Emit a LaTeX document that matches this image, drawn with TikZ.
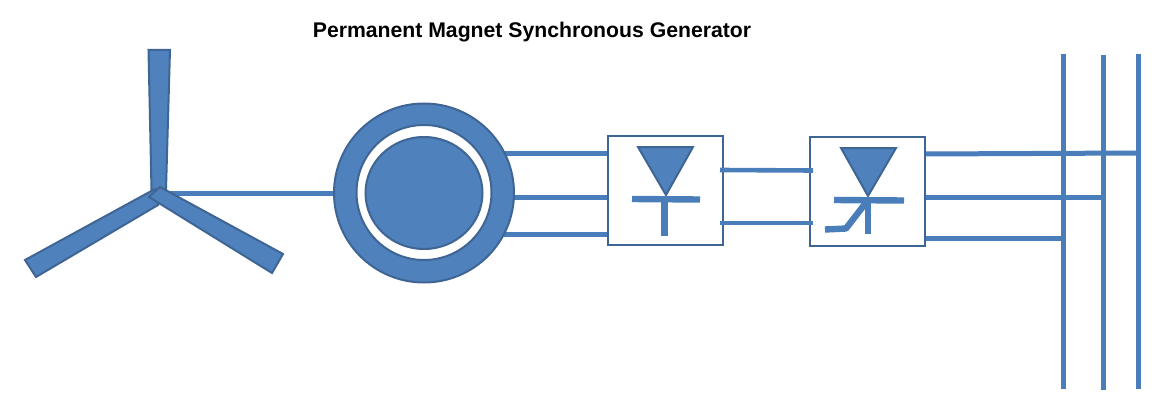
\documentclass[tikz,border=0pt]{standalone}
\usepackage{fontspec}
\setmainfont{Liberation Sans}
\usetikzlibrary{shapes.geometric}
\definecolor{bfill}{HTML}{4F81BD}
\definecolor{bedge}{HTML}{3F6595}
\definecolor{bline}{HTML}{4A7EBB}
\tikzset{
  shape solid/.style={fill=bfill,draw=bedge,line width=2pt,line join=miter},
  wire/.style={draw=bline,line width=5pt},
  thinwire/.style={draw=bline,line width=4.6pt},
  busbar/.style={draw=bline,line width=5pt},
  symbolbar/.style={draw=bline,line width=6.4pt},
  convbox/.style={draw=bedge,fill=white,line width=2.4pt,rectangle,inner sep=0pt,outer sep=0pt},
  ring/.style={ellipse,inner sep=0pt,outer sep=0pt},
}
\begin{document}
\begin{tikzpicture}[x=1pt,y=-1pt]
\useasboundingbox (0,0) rectangle (1171,412);
\node[font=\fontsize{21.2}{25}\selectfont\bfseries,text=black,inner sep=0pt] (title) at (532,32.5) {Permanent Magnet Synchronous Generator};

% anchor points
\coordinate (hub) at (158,193);
\coordinate (shaftend) at (340,193);
\coordinate (g1) at (504,153);
\coordinate (g2) at (512,197);
\coordinate (g3) at (504,234);
\coordinate (a1) at (609,153);
\coordinate (a2) at (609,197);
\coordinate (a3) at (609,234);
\coordinate (r1) at (720,170);
\coordinate (r2) at (720,223);
\coordinate (i1) at (813,170.5);
\coordinate (i2) at (813,223);
\coordinate (o1) at (925,154);
\coordinate (o2) at (925,197);
\coordinate (o3) at (925,238);
\coordinate (t1) at (1138,153);
\coordinate (t2) at (1103,197);
\coordinate (t3) at (1063,238);
\coordinate (b1a) at (1063,54);
\coordinate (b1b) at (1063,389);
\coordinate (b2a) at (1103,55);
\coordinate (b2b) at (1103,390);
\coordinate (b3a) at (1138,54);
\coordinate (b3b) at (1138,389);

% shaft and wires
\draw[wire] (hub) -- (shaftend);
\draw[wire] (g1) -- (a1);
\draw[wire] (g2) -- (a2);
\draw[wire] (g3) -- (a3);
\draw[wire] (o1) -- (t1);
\draw[wire] (o2) -- (t2);
\draw[wire] (o3) -- (t3);
\draw[busbar] (b1a) -- (b1b);
\draw[busbar] (b2a) -- (b2b);
\draw[busbar] (b3a) -- (b3b);

% blades
\draw[shape solid] (148.5,50) -- (170,50) -- (166,190) -- (151.5,190) -- cycle;
\draw[shape solid] (25,260) -- (36,277) -- (158,205) -- (155,189) -- cycle;
\draw[shape solid] (272,273) -- (283,254) -- (160,187) -- (149,197) -- cycle;

% generator
\node[ring,shape solid,minimum width=180pt,minimum height=179pt] (gen) at (424,193) {};
\node[ring,fill=white,draw=bedge,line width=2pt,minimum width=135pt,minimum height=135pt] (gap) at (424,192.5) {};
\node[ring,shape solid,minimum width=117pt,minimum height=112pt] (rotor) at (424,193) {};

% converters
\node[convbox,minimum width=115pt,minimum height=109pt] (rect) at (665.5,190.5) {};
\node[convbox,minimum width=115pt,minimum height=109pt] (inv) at (867.5,191.5) {};
\draw[thinwire] (r1) -- (i1);
\draw[thinwire] (r2) -- (i2);

% diode
\draw[shape solid] (638,147) -- (693,147) -- (666,195) -- cycle;
\coordinate (d1) at (632,199);
\coordinate (d2) at (700,199.5);
\coordinate (d3) at (664.5,199);
\coordinate (d4) at (664.5,236);
\draw[symbolbar] (d1) -- (d2);
\draw[symbolbar] (d3) -- (d4);

% thyristor
\draw[shape solid] (841,148) -- (896,148) -- (868,196) -- cycle;
\coordinate (s1) at (834,200);
\coordinate (s2) at (904,200.5);
\coordinate (s3) at (868,200);
\coordinate (s4) at (868,234);
\coordinate (s5) at (825,229.5);
\coordinate (s6) at (846,228.5);
\draw[symbolbar] (s1) -- (s2);
\draw[symbolbar] (s3) -- (s4);
\draw[symbolbar,line join=round] (s5) -- (s6) -- (s3);
\end{tikzpicture}
\end{document}
